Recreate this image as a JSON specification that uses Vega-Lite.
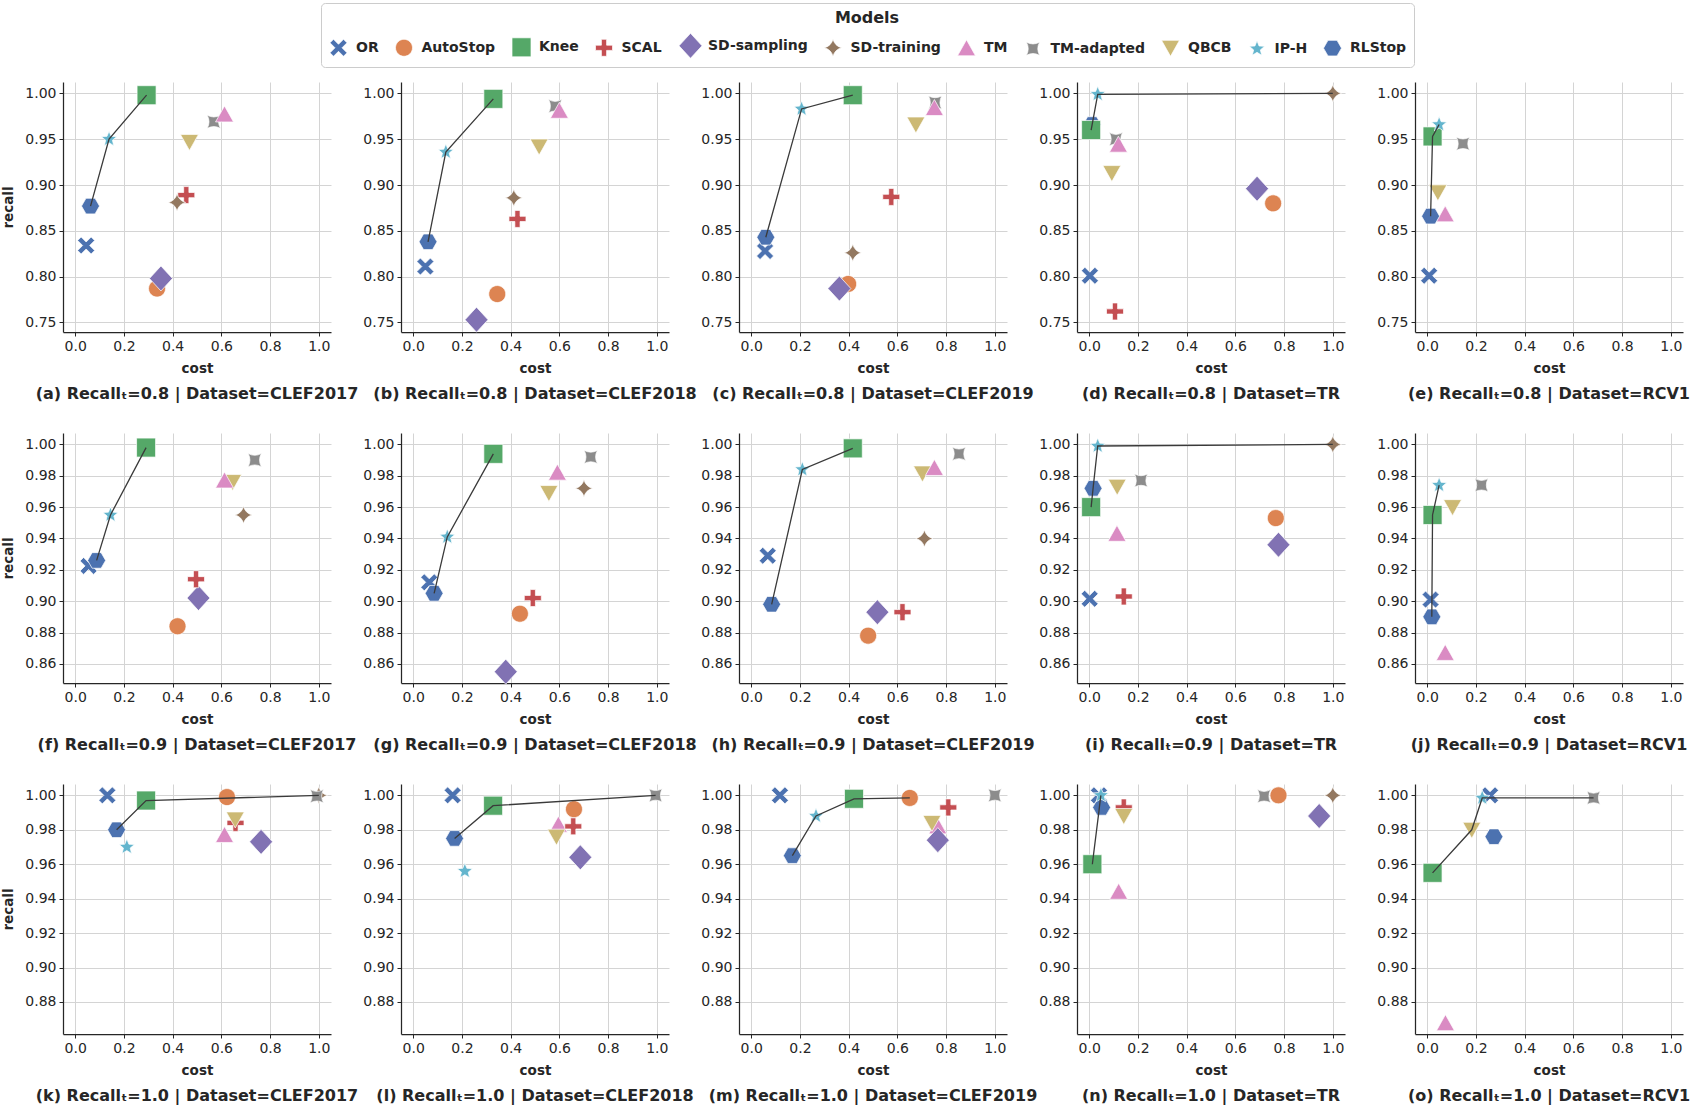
{
"$schema":"https://vega.github.io/schema/vega-lite/v6.json",
"padding":{"left":1,"top":2,"right":2,"bottom":2},
"background":"white",
"config":{
 "font":"DejaVu Sans",
 "view":{"stroke":null},
 "point":{"filled":true,"size":400,"opacity":1,"stroke":"white","strokeWidth":0.7},
 "line":{"color":"#3a3a3a","strokeWidth":1.3},
 "range":{
  "category":["#4C72B0","#DD8452","#55A868","#C44E52","#8172B3","#937860","#DA8BC3","#8C8C8C","#CCB974","#64B5CD","#4C72B0"],
  "symbol":["M-0.85,-0.5L-0.5,-0.85L0,-0.35L0.5,-0.85L0.85,-0.5L0.35,0L0.85,0.5L0.5,0.85L0,0.35L-0.5,0.85L-0.85,0.5L-0.35,0Z",
   "M0.85,0A0.85,0.85,0,1,1,-0.85,0A0.85,0.85,0,1,1,0.85,0Z",
   "M-0.95,-0.95H0.95V0.95H-0.95Z",
   "M-0.26,-0.85H0.26V-0.26H0.85V0.26H0.26V0.85H-0.26V0.26H-0.85V-0.26H-0.26Z",
   "M0,-1.25L1.15,0L0,1.25L-1.15,0Z",
   "M0,-0.86Q0.18,-0.18,0.86,0Q0.18,0.18,0,0.86Q-0.18,0.18,-0.86,0Q-0.18,-0.18,0,-0.86Z",
   "M0,-0.85L0.9,0.75L-0.9,0.75Z",
   "M-0.66,-0.66Q0,-0.3,0.66,-0.66Q0.3,0,0.66,0.66Q0,0.3,-0.66,0.66Q-0.3,0,-0.66,-0.66Z",
   "M0,0.85L0.9,-0.75L-0.9,-0.75Z",
   "M0,-0.8L0.205,-0.282L0.761,-0.247L0.335,0.109L0.47,0.647L0,0.352L-0.47,0.647L-0.335,0.109L-0.761,-0.247L-0.205,-0.282Z",
   "M-0.9,0L-0.45,-0.78L0.45,-0.78L0.9,0L0.45,0.78L-0.45,0.78Z"]
 },
 "axis":{"labelFont":"DejaVu Sans","labelFontSize":14,"labelColor":"#262626","labelOverlap":false,"titleFont":"DejaVu Sans","titleFontSize":13.5,"titleFontWeight":"bold","titleColor":"#262626","domainColor":"#262626","domainWidth":1.25,"tickColor":"#262626","tickSize":4,"tickWidth":1,"gridColor":"#d4d4d4","gridWidth":1,"labelPadding":3},
 "axisX":{"titlePadding":8},
 "axisY":{"titlePadding":9},
 "title":{"orient":"bottom","anchor":"middle","font":"DejaVu Sans","fontSize":16,"fontWeight":"bold","color":"#262626","offset":11},
 "legend":{"orient":"none","legendX":258,"legendY":-79,"direction":"horizontal","columns":11,"titleAnchor":"middle","titleFont":"DejaVu Sans","titleFontSize":16,"titleFontWeight":"bold","titleColor":"#262626","titlePadding":9,"labelFont":"DejaVu Sans","labelFontSize":14,"labelFontWeight":"bold","labelColor":"#262626","labelOffset":7,"columnPadding":14.5,"symbolSize":400,"padding":7,"strokeColor":"#cccccc","cornerRadius":4,"fillColor":"white","symbolStrokeColor":"white","symbolStrokeWidth":0.7}
},
"datasets":{"d":[
{"p":"a","model":"OR","cost":0.045,"recall":0.834},
{"p":"a","model":"AutoStop","cost":0.336,"recall":0.787},
{"p":"a","model":"SD-sampling","cost":0.352,"recall":0.798},
{"p":"a","model":"SCAL","cost":0.456,"recall":0.889},
{"p":"a","model":"SD-training","cost":0.418,"recall":0.881},
{"p":"a","model":"QBCB","cost":0.469,"recall":0.947},
{"p":"a","model":"TM-adapted","cost":0.569,"recall":0.969},
{"p":"a","model":"TM","cost":0.613,"recall":0.977},
{"p":"a","model":"RLStop","cost":0.063,"recall":0.877,"f":1},
{"p":"a","model":"IP-H","cost":0.139,"recall":0.95,"f":1},
{"p":"a","model":"Knee","cost":0.293,"recall":0.998,"f":1},

{"p":"b","model":"OR","cost":0.05,"recall":0.811},
{"p":"b","model":"AutoStop","cost":0.345,"recall":0.781},
{"p":"b","model":"SD-sampling","cost":0.26,"recall":0.753},
{"p":"b","model":"SCAL","cost":0.428,"recall":0.863},
{"p":"b","model":"SD-training","cost":0.413,"recall":0.886},
{"p":"b","model":"QBCB","cost":0.517,"recall":0.942},
{"p":"b","model":"TM-adapted","cost":0.583,"recall":0.986},
{"p":"b","model":"TM","cost":0.6,"recall":0.981},
{"p":"b","model":"RLStop","cost":0.061,"recall":0.838,"f":1},
{"p":"b","model":"IP-H","cost":0.134,"recall":0.936,"f":1},
{"p":"b","model":"Knee","cost":0.329,"recall":0.994,"f":1},

{"p":"c","model":"OR","cost":0.057,"recall":0.828},
{"p":"c","model":"AutoStop","cost":0.398,"recall":0.792},
{"p":"c","model":"SD-sampling","cost":0.362,"recall":0.787},
{"p":"c","model":"SD-training","cost":0.417,"recall":0.826},
{"p":"c","model":"SCAL","cost":0.575,"recall":0.887},
{"p":"c","model":"QBCB","cost":0.676,"recall":0.966},
{"p":"c","model":"TM-adapted","cost":0.755,"recall":0.99},
{"p":"c","model":"TM","cost":0.752,"recall":0.984},
{"p":"c","model":"RLStop","cost":0.06,"recall":0.843,"f":1},
{"p":"c","model":"IP-H","cost":0.207,"recall":0.983,"f":1},
{"p":"c","model":"Knee","cost":0.417,"recall":0.998,"f":1},

{"p":"d","model":"RLStop","cost":0.012,"recall":0.966},
{"p":"d","model":"Knee","cost":0.008,"recall":0.96,"f":1},
{"p":"d","model":"OR","cost":0.003,"recall":0.801},
{"p":"d","model":"SCAL","cost":0.106,"recall":0.762},
{"p":"d","model":"QBCB","cost":0.093,"recall":0.913},
{"p":"d","model":"TM-adapted","cost":0.11,"recall":0.95},
{"p":"d","model":"TM","cost":0.12,"recall":0.944},
{"p":"d","model":"SD-sampling","cost":0.689,"recall":0.896},
{"p":"d","model":"AutoStop","cost":0.755,"recall":0.88},
{"p":"d","model":"IP-H","cost":0.035,"recall":0.999,"f":1},
{"p":"d","model":"SD-training","cost":1.0,"recall":1.0,"f":1},

{"p":"e","model":"OR","cost":0.008,"recall":0.801},
{"p":"e","model":"TM","cost":0.074,"recall":0.868},
{"p":"e","model":"QBCB","cost":0.044,"recall":0.892},
{"p":"e","model":"TM-adapted","cost":0.147,"recall":0.945},
{"p":"e","model":"RLStop","cost":0.014,"recall":0.866,"f":1},
{"p":"e","model":"Knee","cost":0.022,"recall":0.953,"f":1},
{"p":"e","model":"IP-H","cost":0.049,"recall":0.966,"f":1},

{"p":"f","model":"OR","cost":0.055,"recall":0.9225},
{"p":"f","model":"AutoStop","cost":0.42,"recall":0.884},
{"p":"f","model":"SD-sampling","cost":0.506,"recall":0.902},
{"p":"f","model":"SCAL","cost":0.496,"recall":0.914},
{"p":"f","model":"SD-training","cost":0.691,"recall":0.955},
{"p":"f","model":"QBCB","cost":0.646,"recall":0.976},
{"p":"f","model":"TM","cost":0.613,"recall":0.977},
{"p":"f","model":"TM-adapted","cost":0.737,"recall":0.99},
{"p":"f","model":"RLStop","cost":0.088,"recall":0.926,"f":1},
{"p":"f","model":"IP-H","cost":0.145,"recall":0.955,"f":1},
{"p":"f","model":"Knee","cost":0.291,"recall":0.998,"f":1},

{"p":"g","model":"OR","cost":0.066,"recall":0.912},
{"p":"g","model":"SD-sampling","cost":0.38,"recall":0.855},
{"p":"g","model":"AutoStop","cost":0.438,"recall":0.892},
{"p":"g","model":"SCAL","cost":0.491,"recall":0.902},
{"p":"g","model":"QBCB","cost":0.557,"recall":0.969},
{"p":"g","model":"SD-training","cost":0.701,"recall":0.972},
{"p":"g","model":"TM","cost":0.592,"recall":0.982},
{"p":"g","model":"TM-adapted","cost":0.729,"recall":0.992},
{"p":"g","model":"RLStop","cost":0.086,"recall":0.905,"f":1},
{"p":"g","model":"IP-H","cost":0.14,"recall":0.941,"f":1},
{"p":"g","model":"Knee","cost":0.329,"recall":0.994,"f":1},

{"p":"h","model":"OR","cost":0.068,"recall":0.929},
{"p":"h","model":"AutoStop","cost":0.48,"recall":0.878},
{"p":"h","model":"SD-sampling","cost":0.518,"recall":0.893},
{"p":"h","model":"SCAL","cost":0.621,"recall":0.893},
{"p":"h","model":"SD-training","cost":0.711,"recall":0.94},
{"p":"h","model":"QBCB","cost":0.703,"recall":0.9815},
{"p":"h","model":"TM","cost":0.752,"recall":0.985},
{"p":"h","model":"TM-adapted","cost":0.853,"recall":0.994},
{"p":"h","model":"RLStop","cost":0.084,"recall":0.898,"f":1},
{"p":"h","model":"IP-H","cost":0.21,"recall":0.984,"f":1},
{"p":"h","model":"Knee","cost":0.417,"recall":0.9975,"f":1},

{"p":"i","model":"OR","cost":0.002,"recall":0.9015},
{"p":"i","model":"SCAL","cost":0.142,"recall":0.903},
{"p":"i","model":"TM","cost":0.114,"recall":0.943},
{"p":"i","model":"SD-sampling","cost":0.777,"recall":0.936},
{"p":"i","model":"AutoStop","cost":0.766,"recall":0.953},
{"p":"i","model":"QBCB","cost":0.115,"recall":0.973},
{"p":"i","model":"TM-adapted","cost":0.213,"recall":0.977},
{"p":"i","model":"Knee","cost":0.008,"recall":0.96,"f":1},
{"p":"i","model":"RLStop","cost":0.016,"recall":0.972,"f":1},
{"p":"i","model":"IP-H","cost":0.035,"recall":0.999,"f":1},
{"p":"i","model":"SD-training","cost":1.0,"recall":1.0,"f":1},

{"p":"j","model":"TM","cost":0.074,"recall":0.867},
{"p":"j","model":"OR","cost":0.014,"recall":0.901},
{"p":"j","model":"QBCB","cost":0.104,"recall":0.96},
{"p":"j","model":"TM-adapted","cost":0.223,"recall":0.974},
{"p":"j","model":"RLStop","cost":0.019,"recall":0.89,"f":1},
{"p":"j","model":"Knee","cost":0.022,"recall":0.955,"f":1},
{"p":"j","model":"IP-H","cost":0.049,"recall":0.974,"f":1},

{"p":"k","model":"TM","cost":0.613,"recall":0.977},
{"p":"k","model":"SCAL","cost":0.658,"recall":0.984},
{"p":"k","model":"QBCB","cost":0.657,"recall":0.986},
{"p":"k","model":"SD-sampling","cost":0.763,"recall":0.973},
{"p":"k","model":"IP-H","cost":0.212,"recall":0.97},
{"p":"k","model":"OR","cost":0.132,"recall":1.0},
{"p":"k","model":"AutoStop","cost":0.623,"recall":0.999},
{"p":"k","model":"SD-training","cost":1.0,"recall":1.0,"f":1},
{"p":"k","model":"TM-adapted","cost":0.992,"recall":0.9995},
{"p":"k","model":"RLStop","cost":0.17,"recall":0.98,"f":1},
{"p":"k","model":"Knee","cost":0.291,"recall":0.997,"f":1},

{"p":"l","model":"SD-sampling","cost":0.686,"recall":0.964},
{"p":"l","model":"TM","cost":0.596,"recall":0.983},
{"p":"l","model":"QBCB","cost":0.588,"recall":0.976},
{"p":"l","model":"AutoStop","cost":0.66,"recall":0.992},
{"p":"l","model":"SCAL","cost":0.657,"recall":0.982},
{"p":"l","model":"IP-H","cost":0.212,"recall":0.956},
{"p":"l","model":"OR","cost":0.162,"recall":1.0},
{"p":"l","model":"TM-adapted","cost":0.995,"recall":1.0,"f":1},
{"p":"l","model":"RLStop","cost":0.17,"recall":0.975,"f":1},
{"p":"l","model":"Knee","cost":0.328,"recall":0.994,"f":1},

{"p":"m","model":"TM","cost":0.766,"recall":0.982},
{"p":"m","model":"QBCB","cost":0.742,"recall":0.984},
{"p":"m","model":"SD-sampling","cost":0.766,"recall":0.974},
{"p":"m","model":"SCAL","cost":0.809,"recall":0.993},
{"p":"m","model":"TM-adapted","cost":1.0,"recall":1.0},
{"p":"m","model":"OR","cost":0.118,"recall":1.0},
{"p":"m","model":"RLStop","cost":0.169,"recall":0.965,"f":1},
{"p":"m","model":"IP-H","cost":0.266,"recall":0.988,"f":1},
{"p":"m","model":"Knee","cost":0.422,"recall":0.998,"f":1},
{"p":"m","model":"AutoStop","cost":0.651,"recall":0.9985,"f":1},

{"p":"n","model":"TM","cost":0.121,"recall":0.944},
{"p":"n","model":"SCAL","cost":0.142,"recall":0.993},
{"p":"n","model":"QBCB","cost":0.142,"recall":0.988},
{"p":"n","model":"OR","cost":0.04,"recall":1.0},
{"p":"n","model":"RLStop","cost":0.051,"recall":0.993},
{"p":"n","model":"TM-adapted","cost":0.718,"recall":0.9995},
{"p":"n","model":"AutoStop","cost":0.777,"recall":1.0},
{"p":"n","model":"SD-training","cost":1.0,"recall":1.0},
{"p":"n","model":"SD-sampling","cost":0.944,"recall":0.988},
{"p":"n","model":"Knee","cost":0.013,"recall":0.96,"f":1},
{"p":"n","model":"IP-H","cost":0.048,"recall":1.0,"f":1},

{"p":"o","model":"TM","cost":0.075,"recall":0.8677},
{"p":"o","model":"RLStop","cost":0.274,"recall":0.976},
{"p":"o","model":"OR","cost":0.258,"recall":1.0},
{"p":"o","model":"TM-adapted","cost":0.683,"recall":0.9985,"f":1},
{"p":"o","model":"Knee","cost":0.022,"recall":0.955,"f":1},
{"p":"o","model":"QBCB","cost":0.183,"recall":0.98,"f":1},
{"p":"o","model":"IP-H","cost":0.226,"recall":0.9985,"f":1}
]},
"data":{"name":"d"},
"columns":5,
"spacing":{"row":101,"column":70},
"bounds":"flush",
"resolve":{"scale":{"color":"shared","shape":"shared"},"legend":{"color":"shared","shape":"shared"}},
"concat":[
{"width":268,"height":250,"title":"(a) Recallₜ=0.8 | Dataset=CLEF2017","transform":[{"filter":"datum.p==='a'"}],"layer":[{"mark":"point","encoding":{"x":{"field":"cost","type":"quantitative","scale":{"domain":[-0.05,1.05],"nice":false,"zero":false},"axis":{"values":[0,0.2,0.4,0.6,0.8,1],"format":".1f","tickCount":12},"title":"cost"},"y":{"field":"recall","type":"quantitative","scale":{"domain":[0.7396,1.0124],"nice":false,"zero":false},"axis":{"values":[0.75,0.8,0.85,0.9,0.95,1],"format":".2f","tickCount":12},"title":"recall"},"color":{"field":"model","type":"nominal","title":"Models","scale":{"domain":["OR","AutoStop","Knee","SCAL","SD-sampling","SD-training","TM","TM-adapted","QBCB","IP-H","RLStop"]}},"shape":{"field":"model","type":"nominal","title":"Models","scale":{"domain":["OR","AutoStop","Knee","SCAL","SD-sampling","SD-training","TM","TM-adapted","QBCB","IP-H","RLStop"]}}}},{"transform":[{"filter":"datum.f===1"}],"mark":"line","encoding":{"x":{"field":"cost","type":"quantitative"},"y":{"field":"recall","type":"quantitative"}}}]},
{"width":268,"height":250,"title":"(b) Recallₜ=0.8 | Dataset=CLEF2018","transform":[{"filter":"datum.p==='b'"}],"layer":[{"mark":"point","encoding":{"x":{"field":"cost","type":"quantitative","scale":{"domain":[-0.05,1.05],"nice":false,"zero":false},"axis":{"values":[0,0.2,0.4,0.6,0.8,1],"format":".1f","tickCount":12},"title":"cost"},"y":{"field":"recall","type":"quantitative","scale":{"domain":[0.7396,1.0124],"nice":false,"zero":false},"axis":{"values":[0.75,0.8,0.85,0.9,0.95,1],"format":".2f","tickCount":12},"title":null},"color":{"field":"model","type":"nominal","title":"Models","scale":{"domain":["OR","AutoStop","Knee","SCAL","SD-sampling","SD-training","TM","TM-adapted","QBCB","IP-H","RLStop"]}},"shape":{"field":"model","type":"nominal","title":"Models","scale":{"domain":["OR","AutoStop","Knee","SCAL","SD-sampling","SD-training","TM","TM-adapted","QBCB","IP-H","RLStop"]}}}},{"transform":[{"filter":"datum.f===1"}],"mark":"line","encoding":{"x":{"field":"cost","type":"quantitative"},"y":{"field":"recall","type":"quantitative"}}}]},
{"width":268,"height":250,"title":"(c) Recallₜ=0.8 | Dataset=CLEF2019","transform":[{"filter":"datum.p==='c'"}],"layer":[{"mark":"point","encoding":{"x":{"field":"cost","type":"quantitative","scale":{"domain":[-0.05,1.05],"nice":false,"zero":false},"axis":{"values":[0,0.2,0.4,0.6,0.8,1],"format":".1f","tickCount":12},"title":"cost"},"y":{"field":"recall","type":"quantitative","scale":{"domain":[0.7396,1.0124],"nice":false,"zero":false},"axis":{"values":[0.75,0.8,0.85,0.9,0.95,1],"format":".2f","tickCount":12},"title":null},"color":{"field":"model","type":"nominal","title":"Models","scale":{"domain":["OR","AutoStop","Knee","SCAL","SD-sampling","SD-training","TM","TM-adapted","QBCB","IP-H","RLStop"]}},"shape":{"field":"model","type":"nominal","title":"Models","scale":{"domain":["OR","AutoStop","Knee","SCAL","SD-sampling","SD-training","TM","TM-adapted","QBCB","IP-H","RLStop"]}}}},{"transform":[{"filter":"datum.f===1"}],"mark":"line","encoding":{"x":{"field":"cost","type":"quantitative"},"y":{"field":"recall","type":"quantitative"}}}]},
{"width":268,"height":250,"title":"(d) Recallₜ=0.8 | Dataset=TR","transform":[{"filter":"datum.p==='d'"}],"layer":[{"mark":"point","encoding":{"x":{"field":"cost","type":"quantitative","scale":{"domain":[-0.05,1.05],"nice":false,"zero":false},"axis":{"values":[0,0.2,0.4,0.6,0.8,1],"format":".1f","tickCount":12},"title":"cost"},"y":{"field":"recall","type":"quantitative","scale":{"domain":[0.7396,1.0124],"nice":false,"zero":false},"axis":{"values":[0.75,0.8,0.85,0.9,0.95,1],"format":".2f","tickCount":12},"title":null},"color":{"field":"model","type":"nominal","title":"Models","scale":{"domain":["OR","AutoStop","Knee","SCAL","SD-sampling","SD-training","TM","TM-adapted","QBCB","IP-H","RLStop"]}},"shape":{"field":"model","type":"nominal","title":"Models","scale":{"domain":["OR","AutoStop","Knee","SCAL","SD-sampling","SD-training","TM","TM-adapted","QBCB","IP-H","RLStop"]}}}},{"transform":[{"filter":"datum.f===1"}],"mark":"line","encoding":{"x":{"field":"cost","type":"quantitative"},"y":{"field":"recall","type":"quantitative"}}}]},
{"width":268,"height":250,"title":"(e) Recallₜ=0.8 | Dataset=RCV1","transform":[{"filter":"datum.p==='e'"}],"layer":[{"mark":"point","encoding":{"x":{"field":"cost","type":"quantitative","scale":{"domain":[-0.05,1.05],"nice":false,"zero":false},"axis":{"values":[0,0.2,0.4,0.6,0.8,1],"format":".1f","tickCount":12},"title":"cost"},"y":{"field":"recall","type":"quantitative","scale":{"domain":[0.7396,1.0124],"nice":false,"zero":false},"axis":{"values":[0.75,0.8,0.85,0.9,0.95,1],"format":".2f","tickCount":12},"title":null},"color":{"field":"model","type":"nominal","title":"Models","scale":{"domain":["OR","AutoStop","Knee","SCAL","SD-sampling","SD-training","TM","TM-adapted","QBCB","IP-H","RLStop"]}},"shape":{"field":"model","type":"nominal","title":"Models","scale":{"domain":["OR","AutoStop","Knee","SCAL","SD-sampling","SD-training","TM","TM-adapted","QBCB","IP-H","RLStop"]}}}},{"transform":[{"filter":"datum.f===1"}],"mark":"line","encoding":{"x":{"field":"cost","type":"quantitative"},"y":{"field":"recall","type":"quantitative"}}}]},
{"width":268,"height":250,"title":"(f) Recallₜ=0.9 | Dataset=CLEF2017","transform":[{"filter":"datum.p==='f'"}],"layer":[{"mark":"point","encoding":{"x":{"field":"cost","type":"quantitative","scale":{"domain":[-0.05,1.05],"nice":false,"zero":false},"axis":{"values":[0,0.2,0.4,0.6,0.8,1],"format":".1f","tickCount":12},"title":"cost"},"y":{"field":"recall","type":"quantitative","scale":{"domain":[0.8478,1.0073],"nice":false,"zero":false},"axis":{"values":[0.86,0.88,0.9,0.92,0.94,0.96,0.98,1],"format":".2f","tickCount":12},"title":"recall"},"color":{"field":"model","type":"nominal","title":"Models","scale":{"domain":["OR","AutoStop","Knee","SCAL","SD-sampling","SD-training","TM","TM-adapted","QBCB","IP-H","RLStop"]}},"shape":{"field":"model","type":"nominal","title":"Models","scale":{"domain":["OR","AutoStop","Knee","SCAL","SD-sampling","SD-training","TM","TM-adapted","QBCB","IP-H","RLStop"]}}}},{"transform":[{"filter":"datum.f===1"}],"mark":"line","encoding":{"x":{"field":"cost","type":"quantitative"},"y":{"field":"recall","type":"quantitative"}}}]},
{"width":268,"height":250,"title":"(g) Recallₜ=0.9 | Dataset=CLEF2018","transform":[{"filter":"datum.p==='g'"}],"layer":[{"mark":"point","encoding":{"x":{"field":"cost","type":"quantitative","scale":{"domain":[-0.05,1.05],"nice":false,"zero":false},"axis":{"values":[0,0.2,0.4,0.6,0.8,1],"format":".1f","tickCount":12},"title":"cost"},"y":{"field":"recall","type":"quantitative","scale":{"domain":[0.8478,1.0073],"nice":false,"zero":false},"axis":{"values":[0.86,0.88,0.9,0.92,0.94,0.96,0.98,1],"format":".2f","tickCount":12},"title":null},"color":{"field":"model","type":"nominal","title":"Models","scale":{"domain":["OR","AutoStop","Knee","SCAL","SD-sampling","SD-training","TM","TM-adapted","QBCB","IP-H","RLStop"]}},"shape":{"field":"model","type":"nominal","title":"Models","scale":{"domain":["OR","AutoStop","Knee","SCAL","SD-sampling","SD-training","TM","TM-adapted","QBCB","IP-H","RLStop"]}}}},{"transform":[{"filter":"datum.f===1"}],"mark":"line","encoding":{"x":{"field":"cost","type":"quantitative"},"y":{"field":"recall","type":"quantitative"}}}]},
{"width":268,"height":250,"title":"(h) Recallₜ=0.9 | Dataset=CLEF2019","transform":[{"filter":"datum.p==='h'"}],"layer":[{"mark":"point","encoding":{"x":{"field":"cost","type":"quantitative","scale":{"domain":[-0.05,1.05],"nice":false,"zero":false},"axis":{"values":[0,0.2,0.4,0.6,0.8,1],"format":".1f","tickCount":12},"title":"cost"},"y":{"field":"recall","type":"quantitative","scale":{"domain":[0.8478,1.0073],"nice":false,"zero":false},"axis":{"values":[0.86,0.88,0.9,0.92,0.94,0.96,0.98,1],"format":".2f","tickCount":12},"title":null},"color":{"field":"model","type":"nominal","title":"Models","scale":{"domain":["OR","AutoStop","Knee","SCAL","SD-sampling","SD-training","TM","TM-adapted","QBCB","IP-H","RLStop"]}},"shape":{"field":"model","type":"nominal","title":"Models","scale":{"domain":["OR","AutoStop","Knee","SCAL","SD-sampling","SD-training","TM","TM-adapted","QBCB","IP-H","RLStop"]}}}},{"transform":[{"filter":"datum.f===1"}],"mark":"line","encoding":{"x":{"field":"cost","type":"quantitative"},"y":{"field":"recall","type":"quantitative"}}}]},
{"width":268,"height":250,"title":"(i) Recallₜ=0.9 | Dataset=TR","transform":[{"filter":"datum.p==='i'"}],"layer":[{"mark":"point","encoding":{"x":{"field":"cost","type":"quantitative","scale":{"domain":[-0.05,1.05],"nice":false,"zero":false},"axis":{"values":[0,0.2,0.4,0.6,0.8,1],"format":".1f","tickCount":12},"title":"cost"},"y":{"field":"recall","type":"quantitative","scale":{"domain":[0.8478,1.0073],"nice":false,"zero":false},"axis":{"values":[0.86,0.88,0.9,0.92,0.94,0.96,0.98,1],"format":".2f","tickCount":12},"title":null},"color":{"field":"model","type":"nominal","title":"Models","scale":{"domain":["OR","AutoStop","Knee","SCAL","SD-sampling","SD-training","TM","TM-adapted","QBCB","IP-H","RLStop"]}},"shape":{"field":"model","type":"nominal","title":"Models","scale":{"domain":["OR","AutoStop","Knee","SCAL","SD-sampling","SD-training","TM","TM-adapted","QBCB","IP-H","RLStop"]}}}},{"transform":[{"filter":"datum.f===1"}],"mark":"line","encoding":{"x":{"field":"cost","type":"quantitative"},"y":{"field":"recall","type":"quantitative"}}}]},
{"width":268,"height":250,"title":"(j) Recallₜ=0.9 | Dataset=RCV1","transform":[{"filter":"datum.p==='j'"}],"layer":[{"mark":"point","encoding":{"x":{"field":"cost","type":"quantitative","scale":{"domain":[-0.05,1.05],"nice":false,"zero":false},"axis":{"values":[0,0.2,0.4,0.6,0.8,1],"format":".1f","tickCount":12},"title":"cost"},"y":{"field":"recall","type":"quantitative","scale":{"domain":[0.8478,1.0073],"nice":false,"zero":false},"axis":{"values":[0.86,0.88,0.9,0.92,0.94,0.96,0.98,1],"format":".2f","tickCount":12},"title":null},"color":{"field":"model","type":"nominal","title":"Models","scale":{"domain":["OR","AutoStop","Knee","SCAL","SD-sampling","SD-training","TM","TM-adapted","QBCB","IP-H","RLStop"]}},"shape":{"field":"model","type":"nominal","title":"Models","scale":{"domain":["OR","AutoStop","Knee","SCAL","SD-sampling","SD-training","TM","TM-adapted","QBCB","IP-H","RLStop"]}}}},{"transform":[{"filter":"datum.f===1"}],"mark":"line","encoding":{"x":{"field":"cost","type":"quantitative"},"y":{"field":"recall","type":"quantitative"}}}]},
{"width":268,"height":250,"title":"(k) Recallₜ=1.0 | Dataset=CLEF2017","transform":[{"filter":"datum.p==='k'"}],"layer":[{"mark":"point","encoding":{"x":{"field":"cost","type":"quantitative","scale":{"domain":[-0.05,1.05],"nice":false,"zero":false},"axis":{"values":[0,0.2,0.4,0.6,0.8,1],"format":".1f","tickCount":12},"title":"cost"},"y":{"field":"recall","type":"quantitative","scale":{"domain":[0.8614,1.0066],"nice":false,"zero":false},"axis":{"values":[0.88,0.9,0.92,0.94,0.96,0.98,1],"format":".2f","tickCount":12},"title":"recall"},"color":{"field":"model","type":"nominal","title":"Models","scale":{"domain":["OR","AutoStop","Knee","SCAL","SD-sampling","SD-training","TM","TM-adapted","QBCB","IP-H","RLStop"]}},"shape":{"field":"model","type":"nominal","title":"Models","scale":{"domain":["OR","AutoStop","Knee","SCAL","SD-sampling","SD-training","TM","TM-adapted","QBCB","IP-H","RLStop"]}}}},{"transform":[{"filter":"datum.f===1"}],"mark":"line","encoding":{"x":{"field":"cost","type":"quantitative"},"y":{"field":"recall","type":"quantitative"}}}]},
{"width":268,"height":250,"title":"(l) Recallₜ=1.0 | Dataset=CLEF2018","transform":[{"filter":"datum.p==='l'"}],"layer":[{"mark":"point","encoding":{"x":{"field":"cost","type":"quantitative","scale":{"domain":[-0.05,1.05],"nice":false,"zero":false},"axis":{"values":[0,0.2,0.4,0.6,0.8,1],"format":".1f","tickCount":12},"title":"cost"},"y":{"field":"recall","type":"quantitative","scale":{"domain":[0.8614,1.0066],"nice":false,"zero":false},"axis":{"values":[0.88,0.9,0.92,0.94,0.96,0.98,1],"format":".2f","tickCount":12},"title":null},"color":{"field":"model","type":"nominal","title":"Models","scale":{"domain":["OR","AutoStop","Knee","SCAL","SD-sampling","SD-training","TM","TM-adapted","QBCB","IP-H","RLStop"]}},"shape":{"field":"model","type":"nominal","title":"Models","scale":{"domain":["OR","AutoStop","Knee","SCAL","SD-sampling","SD-training","TM","TM-adapted","QBCB","IP-H","RLStop"]}}}},{"transform":[{"filter":"datum.f===1"}],"mark":"line","encoding":{"x":{"field":"cost","type":"quantitative"},"y":{"field":"recall","type":"quantitative"}}}]},
{"width":268,"height":250,"title":"(m) Recallₜ=1.0 | Dataset=CLEF2019","transform":[{"filter":"datum.p==='m'"}],"layer":[{"mark":"point","encoding":{"x":{"field":"cost","type":"quantitative","scale":{"domain":[-0.05,1.05],"nice":false,"zero":false},"axis":{"values":[0,0.2,0.4,0.6,0.8,1],"format":".1f","tickCount":12},"title":"cost"},"y":{"field":"recall","type":"quantitative","scale":{"domain":[0.8614,1.0066],"nice":false,"zero":false},"axis":{"values":[0.88,0.9,0.92,0.94,0.96,0.98,1],"format":".2f","tickCount":12},"title":null},"color":{"field":"model","type":"nominal","title":"Models","scale":{"domain":["OR","AutoStop","Knee","SCAL","SD-sampling","SD-training","TM","TM-adapted","QBCB","IP-H","RLStop"]}},"shape":{"field":"model","type":"nominal","title":"Models","scale":{"domain":["OR","AutoStop","Knee","SCAL","SD-sampling","SD-training","TM","TM-adapted","QBCB","IP-H","RLStop"]}}}},{"transform":[{"filter":"datum.f===1"}],"mark":"line","encoding":{"x":{"field":"cost","type":"quantitative"},"y":{"field":"recall","type":"quantitative"}}}]},
{"width":268,"height":250,"title":"(n) Recallₜ=1.0 | Dataset=TR","transform":[{"filter":"datum.p==='n'"}],"layer":[{"mark":"point","encoding":{"x":{"field":"cost","type":"quantitative","scale":{"domain":[-0.05,1.05],"nice":false,"zero":false},"axis":{"values":[0,0.2,0.4,0.6,0.8,1],"format":".1f","tickCount":12},"title":"cost"},"y":{"field":"recall","type":"quantitative","scale":{"domain":[0.8614,1.0066],"nice":false,"zero":false},"axis":{"values":[0.88,0.9,0.92,0.94,0.96,0.98,1],"format":".2f","tickCount":12},"title":null},"color":{"field":"model","type":"nominal","title":"Models","scale":{"domain":["OR","AutoStop","Knee","SCAL","SD-sampling","SD-training","TM","TM-adapted","QBCB","IP-H","RLStop"]}},"shape":{"field":"model","type":"nominal","title":"Models","scale":{"domain":["OR","AutoStop","Knee","SCAL","SD-sampling","SD-training","TM","TM-adapted","QBCB","IP-H","RLStop"]}}}},{"transform":[{"filter":"datum.f===1"}],"mark":"line","encoding":{"x":{"field":"cost","type":"quantitative"},"y":{"field":"recall","type":"quantitative"}}}]},
{"width":268,"height":250,"title":"(o) Recallₜ=1.0 | Dataset=RCV1","transform":[{"filter":"datum.p==='o'"}],"layer":[{"mark":"point","encoding":{"x":{"field":"cost","type":"quantitative","scale":{"domain":[-0.05,1.05],"nice":false,"zero":false},"axis":{"values":[0,0.2,0.4,0.6,0.8,1],"format":".1f","tickCount":12},"title":"cost"},"y":{"field":"recall","type":"quantitative","scale":{"domain":[0.8614,1.0066],"nice":false,"zero":false},"axis":{"values":[0.88,0.9,0.92,0.94,0.96,0.98,1],"format":".2f","tickCount":12},"title":null},"color":{"field":"model","type":"nominal","title":"Models","scale":{"domain":["OR","AutoStop","Knee","SCAL","SD-sampling","SD-training","TM","TM-adapted","QBCB","IP-H","RLStop"]}},"shape":{"field":"model","type":"nominal","title":"Models","scale":{"domain":["OR","AutoStop","Knee","SCAL","SD-sampling","SD-training","TM","TM-adapted","QBCB","IP-H","RLStop"]}}}},{"transform":[{"filter":"datum.f===1"}],"mark":"line","encoding":{"x":{"field":"cost","type":"quantitative"},"y":{"field":"recall","type":"quantitative"}}}]}
]
}
